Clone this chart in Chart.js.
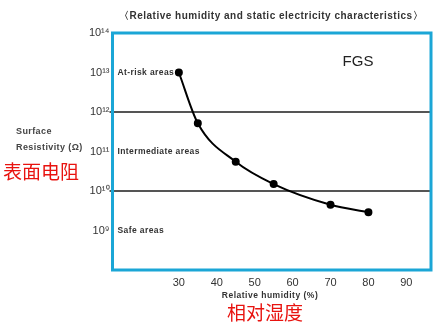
<!DOCTYPE html>
<html>
<head>
<meta charset="utf-8">
<script src="https://cdn.jsdelivr.net/npm/chart.js@4.4.1/dist/chart.umd.min.js"></script>
<style>
  html, body { margin: 0; padding: 0; background: #fff; }
  #wrap { width: 440px; height: 326px; }
</style>
</head>
<body>
<div id="wrap"><canvas id="chart" width="440" height="326"></canvas></div>
<script>
// values
const humidity = [30, 35, 45, 55, 70, 80];
const resistivity = [1e13, 5.2e11, 5.5e10, 1.5e10, 4.5e9, 2.9e9];
const xTicks = [30, 40, 50, 60, 70, 80, 90];
const yTicks = [1e9, 1e10, 1e11, 1e12, 1e13, 1e14];
const boundaries = [1e12, 1e10];
const zoneNames = ["At-risk areas", "Intermediate areas", "Safe areas"];
const zoneLevels = [1e13, 1e11, 1e9];

const SUP = { "0": "⁰", "1": "¹", "2": "²", "3": "³", "4": "⁴", "5": "⁵", "6": "⁶", "7": "⁷", "8": "⁸", "9": "⁹" };
function powLabel(v) {
  const e = String(Math.round(Math.log10(v)));
  return "10" + e.split("").map((c) => SUP[c]).join("");
}

const FONT = "'Liberation Sans', Arial, sans-serif";
const CJK = "'Noto Sans CJK SC', sans-serif";

const decorPlugin = {
  id: "decor",
  afterDraw(chart) {
    const { ctx, chartArea: a, scales } = chart;
    ctx.save();

    // cyan frame around the plot
    ctx.strokeStyle = "#1ba6d6";
    ctx.lineWidth = 3;
    ctx.strokeRect(a.left, a.top, a.right - a.left, a.bottom - a.top);

    // zone labels
    ctx.fillStyle = "#333";
    ctx.font = "bold 8.5px " + FONT;
    ctx.letterSpacing = "0.4px";
    ctx.textAlign = "left";
    ctx.textBaseline = "middle";
    zoneNames.forEach((name, i) => {
      ctx.fillText(name, a.left + 5, scales.y.getPixelForValue(zoneLevels[i]));
    });

    // FGS
    ctx.letterSpacing = "0px";
    ctx.fillStyle = "#222";
    ctx.font = "15px " + FONT;
    ctx.textAlign = "center";
    ctx.fillText("FGS", 358, 62);

    // title
    ctx.fillStyle = "#333";
    ctx.font = "bold 10px " + FONT;
    ctx.letterSpacing = "0.5px";
    ctx.fillText("〈Relative humidity and static electricity characteristics〉", 271, 16);

    // axis titles
    ctx.font = "bold 8.5px " + FONT;
    ctx.letterSpacing = "0.5px";
    ctx.fillText("Relative humidity (%)", 270, 296);
    ctx.textAlign = "left";
    ctx.fillStyle = "#444";
    ctx.font = "bold 9px " + FONT;
    ctx.letterSpacing = "0.4px";
    ctx.fillText("Surface", 16, 132);
    ctx.fillText("Resistivity (Ω)", 16, 148);

    // red Chinese captions
    ctx.letterSpacing = "0px";
    ctx.fillStyle = "#e8130f";
    ctx.font = "19px " + CJK;
    ctx.fillText("表面电阻", 3, 172);
    ctx.textAlign = "center";
    ctx.fillText("相对湿度", 265, 313);

    ctx.restore();
  },
};

new Chart(document.getElementById("chart"), {
  type: "line",
  data: {
    datasets: [
      {
        data: humidity.map((h, i) => ({ x: h, y: resistivity[i] })),
        borderColor: "#000",
        backgroundColor: "#000",
        borderWidth: 2,
        pointRadius: 3,
        pointBackgroundColor: "#000",
        cubicInterpolationMode: "monotone",
        fill: false,
      },
    ],
  },
  options: {
    responsive: false,
    animation: false,
    layout: { padding: { top: 33, right: 9, left: 0, bottom: 0 } },
    plugins: { legend: { display: false }, tooltip: { enabled: false } },
    scales: {
      x: {
        type: "linear",
        min: 12.5,
        max: 96.5,
        afterBuildTicks: (s) => { s.ticks = xTicks.map((v) => ({ value: v })); },
        afterFit: (s) => { s.height = 56; },
        grid: { display: false, drawTicks: false },
        border: { display: false },
        ticks: {
          color: "#333",
          font: { family: FONT, size: 11 },
          padding: 6,
          maxRotation: 0,
        },
      },
      y: {
        type: "logarithmic",
        min: 1e8,
        max: 1e14,
        afterBuildTicks: (s) => { s.ticks = yTicks.map((v) => ({ value: v })); },
        afterFit: (s) => { s.width = 112.5; },
        border: { display: false },
        grid: {
          color: (c) => (boundaries.includes(c.tick && c.tick.value) ? "#555" : "rgba(0,0,0,0)"),
          lineWidth: 2,
          tickLength: 3,
        },
        ticks: {
          color: "#333",
          font: { family: FONT, size: 11 },
          padding: 0,
          callback: (v) => powLabel(v),
        },
      },
    },
  },
  plugins: [decorPlugin],
});
</script>
</body>
</html>
